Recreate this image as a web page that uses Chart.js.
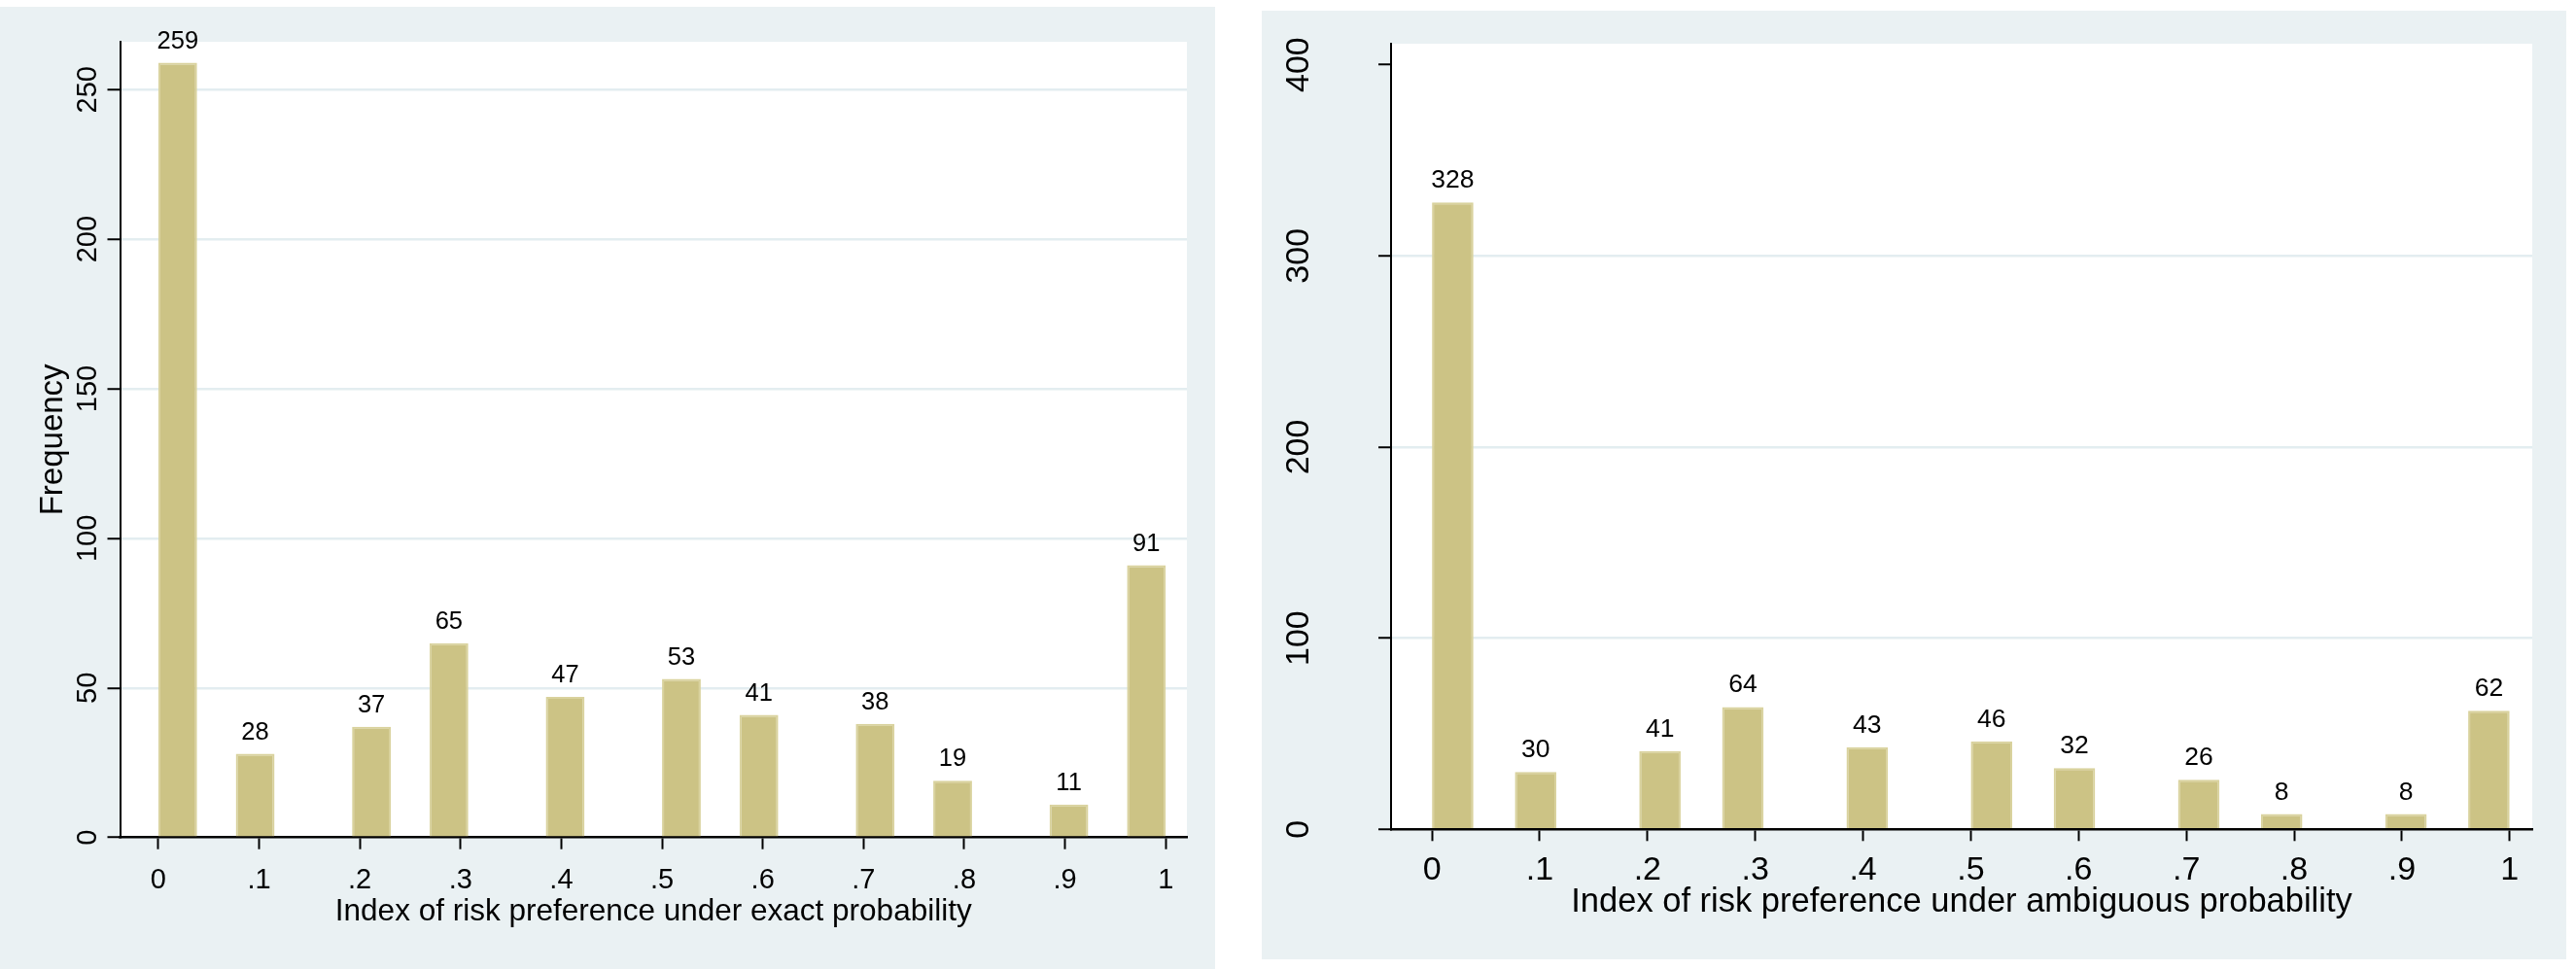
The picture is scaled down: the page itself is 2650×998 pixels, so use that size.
<!DOCTYPE html>
<html>
<head>
<meta charset="utf-8">
<script src="https://cdn.jsdelivr.net/npm/chart.js@4.4.1/dist/chart.umd.min.js"></script>
<style>
   html, body { margin: 0; padding: 0; background: #fff; }
   body { width: 2650px; height: 998px; position: relative; overflow: hidden; }
   .panel { position: absolute; background: #eaf1f3; }
   #panelExact { left: 0; top: 7px; width: 1250px; height: 990px; }
   #panelAmbig { left: 1298px; top: 11px; width: 1342px; height: 976px; }
   canvas { display: block; }
</style>
</head>
<body>
<div class="panel" id="panelExact"><canvas id="chartExact" width="1250" height="990"></canvas></div>
<div class="panel" id="panelAmbig"><canvas id="chartAmbig" width="1342" height="976"></canvas></div>
<script>
// risk preference index values and how many respondents had each
const indexValues = [0, 0.1, 0.2, 0.3, 0.4, 0.5, 0.6, 0.7, 0.8, 0.9, 1];
const exactCounts = [259, 28, 37, 65, 47, 53, 41, 38, 19, 11, 91];
const ambiguousCounts = [328, 30, 41, 64, 43, 46, 32, 26, 8, 8, 62];

// axis ticks
const xTickValues = [0, 0.1, 0.2, 0.3, 0.4, 0.5, 0.6, 0.7, 0.8, 0.9, 1];
const xTickLabels = ['0', '.1', '.2', '.3', '.4', '.5', '.6', '.7', '.8', '.9', '1'];
const exactYTicks = [0, 50, 100, 150, 200, 250];
const ambiguousYTicks = [0, 100, 200, 300, 400];

// the histogram uses 26 equal bins over [0, 1]
const BIN_COUNT = 26;

const FONT = "'Liberation Sans', Arial, Helvetica, sans-serif";
const BAR_FILL = '#ccc385';
const BAR_LINE = '#d9d29d';
const GRID_COLOR = '#e3edf0';

const binCenter = v => (Math.min(Math.floor(v * BIN_COUNT + 1e-9), BIN_COUNT - 1) + 0.5) / BIN_COUNT;
const toPoints = counts => indexValues.map((v, i) => ({ x: binCenter(v), y: counts[i] }));

const plotBackground = {
   id: 'plotBackground',
   beforeDraw(chart) {
      const { ctx, chartArea: a } = chart;
      ctx.save();
      ctx.fillStyle = '#ffffff';
      ctx.fillRect(a.left, a.top, a.right - a.left, a.bottom - a.top);
      ctx.restore();
   }
};

// Stata style texts: rotated y labels, axis titles and bar heights
const stataLabels = {
   id: 'stataLabels',
   afterDraw(chart, args, opts) {
      const { ctx, chartArea: a } = chart;
      const xs = chart.scales.x;
      const ys = chart.scales.y;
      ctx.save();
      ctx.fillStyle = '#000';
      ctx.textAlign = 'center';
      ctx.textBaseline = 'alphabetic';

      ctx.font = `${opts.tickSize}px ${FONT}`;
      xs.ticks.forEach(t => ctx.fillText(t.label, xs.getPixelForValue(t.value), a.bottom + 52));

      ctx.font = `${opts.yTickSize}px ${FONT}`;
      ys.ticks.forEach(t => {
         ctx.save();
         ctx.translate(a.left - opts.yLabelGap, ys.getPixelForValue(t.value));
         ctx.rotate(-Math.PI / 2);
         ctx.fillText(t.label, 0, 0);
         ctx.restore();
      });

      ctx.font = `${opts.titleSize}px ${FONT}`;
      ctx.fillText(opts.xTitle, (a.left + a.right) / 2, a.bottom + 85);

      if (opts.yTitle) {
         ctx.font = `${opts.yTitleSize}px ${FONT}`;
         ctx.save();
         ctx.translate(a.left - opts.yTitleGap, (a.top + a.bottom) / 2);
         ctx.rotate(-Math.PI / 2);
         ctx.fillText(opts.yTitle, 0, 0);
         ctx.restore();
      }

      ctx.font = `${opts.valueSize}px ${FONT}`;
      const meta = chart.getDatasetMeta(0);
      const points = chart.data.datasets[0].data;
      meta.data.forEach((bar, i) => ctx.fillText(String(points[i].y), bar.x, bar.y - 15));
      ctx.restore();
   }
};

function makeHistogram(canvasId, counts, yTicks, cfg) {
   return new Chart(document.getElementById(canvasId), {
      type: 'bar',
      data: {
         datasets: [{
            data: toPoints(counts),
            backgroundColor: BAR_FILL,
            borderColor: BAR_LINE,
            borderWidth: 2,
            borderSkipped: 'start',
            barPercentage: 0.5,
            categoryPercentage: 1,
         }]
      },
      options: {
         responsive: false,
         animation: false,
         devicePixelRatio: 1,
         layout: {
            autoPadding: false,
            padding: { left: 0, top: cfg.padTop, right: cfg.padRight, bottom: 0 }
         },
         scales: {
            x: {
               type: 'linear',
               min: -0.038,
               max: 1.021,
               offset: false,
               afterBuildTicks: scale => { scale.ticks = xTickValues.map(v => ({ value: v })); },
               afterFit: scale => { scale.height = cfg.xAxisHeight; },
               ticks: {
                  color: 'rgba(0,0,0,0)',
                  callback: (value, index) => xTickLabels[index],
               },
               grid: {
                  display: true,
                  offset: false,
                  drawOnChartArea: false,
                  drawTicks: true,
                  tickLength: 12,
                  tickWidth: 2,
                  tickColor: '#000',
               },
               border: { display: true, color: '#000', width: 2.5 },
            },
            y: {
               type: 'linear',
               min: 0,
               max: cfg.yMax,
               afterBuildTicks: scale => { scale.ticks = yTicks.map(v => ({ value: v })); },
               afterFit: scale => { scale.width = cfg.yAxisWidth; },
               ticks: {
                  color: 'rgba(0,0,0,0)',
                  callback: value => String(value),
               },
               grid: {
                  color: c => (c.tick && (c.tick.value === 0 || c.tick.value === cfg.noGridAt)) ? 'rgba(0,0,0,0)' : GRID_COLOR,
                  lineWidth: 2.5,
                  drawTicks: true,
                  tickLength: 13,
                  tickWidth: 2,
                  tickColor: '#000',
               },
               border: { display: true, color: '#000', width: 2 },
            }
         },
         plugins: {
            legend: { display: false },
            tooltip: { enabled: false },
            stataLabels: cfg.labels,
         }
      },
      plugins: [plotBackground, stataLabels]
   });
}

makeHistogram('chartExact', exactCounts, exactYTicks, {
   padTop: 36,
   padRight: 29,
   xAxisHeight: 135.3,
   yAxisWidth: 123.5,
   yMax: 266,
   noGridAt: null,
   labels: {
      xTitle: 'Index of risk preference under exact probability',
      yTitle: 'Frequency',
      tickSize: 29,
      yTickSize: 29,
      titleSize: 31.5,
      yTitleSize: 33,
      valueSize: 25.5,
      yLabelGap: 25,
      yTitleGap: 60,
   }
});

makeHistogram('chartAmbig', ambiguousCounts, ambiguousYTicks, {
   padTop: 34,
   padRight: 35,
   xAxisHeight: 133.7,
   yAxisWidth: 133,
   yMax: 411,
   noGridAt: 400,
   labels: {
      xTitle: 'Index of risk preference under ambiguous probability',
      yTitle: '',
      tickSize: 34,
      yTickSize: 34,
      titleSize: 34.5,
      yTitleSize: 34,
      valueSize: 26.5,
      yLabelGap: 85,
      yTitleGap: 0,
   }
});
</script>
</body>
</html>
